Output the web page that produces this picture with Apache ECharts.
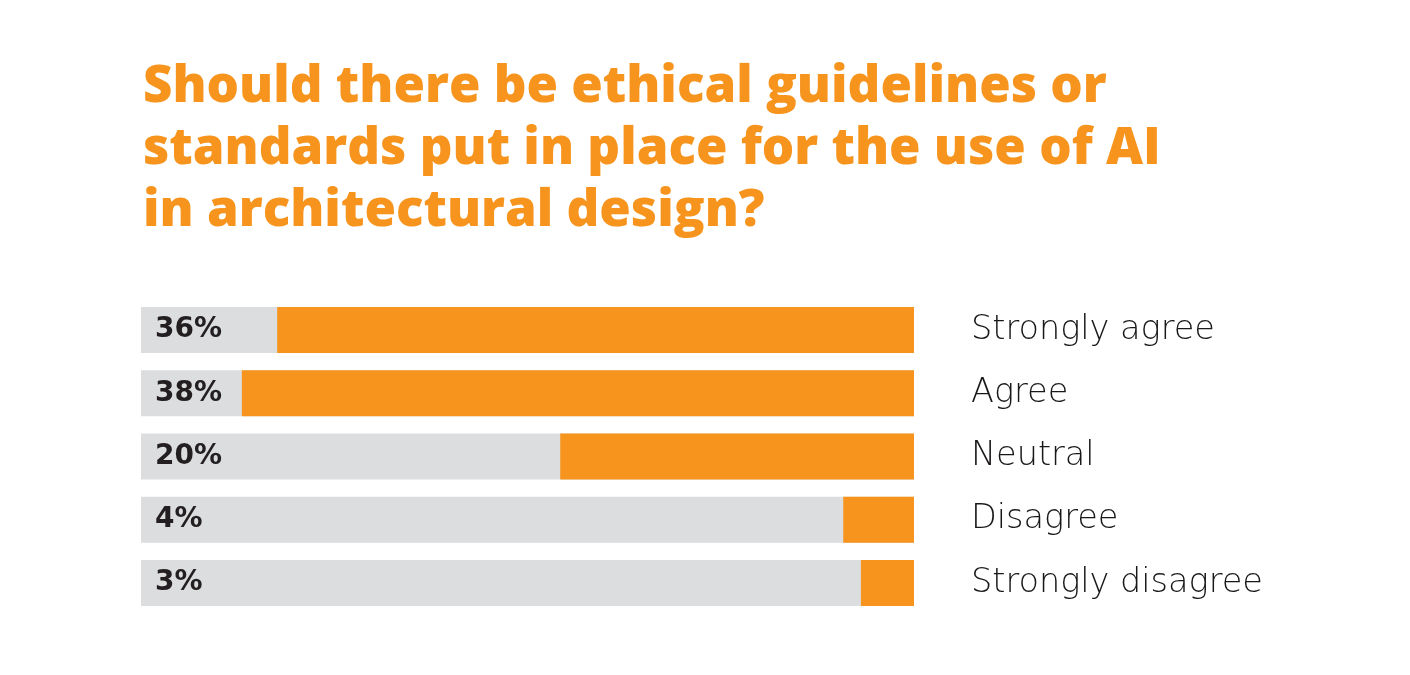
<!DOCTYPE html>
<html>
<head>
<meta charset="utf-8">
<script src="https://cdn.jsdelivr.net/npm/echarts@6/dist/echarts.min.js"></script>
<style>
html,body{margin:0;padding:0;background:#fff;}
#chart{width:1410px;height:675px;}
</style>
</head>
<body>
<div id="chart"></div>
<script>
const categories = ['Strongly agree', 'Agree', 'Neutral', 'Disagree', 'Strongly disagree'];
const values = [36, 38, 20, 4, 3];
const percentLabels = ['36%', '38%', '20%', '4%', '3%'];
const titleText = 'Should there be ethical guidelines or\nstandards put in place for the use of AI\nin architectural design?';

const chart = echarts.init(document.getElementById('chart'));
chart.setOption({
  backgroundColor: '#ffffff',
  animation: false,
  title: {
    text: titleText,
    left: 138,
    top: 51,
    textStyle: {
      fontFamily: 'Open Sans',
      fontWeight: 800,
      fontSize: 51,
      lineHeight: 62,
      color: '#F7941D'
    }
  },
  grid: { left: 141, right: 496, top: 298.5, bottom: 60.5 },
  xAxis: {
    type: 'value', min: 0, max: 43.7, inverse: true, show: false
  },
  yAxis: [
    {
      type: 'category', data: percentLabels, inverse: true, position: 'left',
      z: 10,
      axisLine: { show: false }, axisTick: { show: false },
      axisLabel: {
        inside: true, margin: 14, fontFamily: 'DejaVu Sans', fontWeight: 'bold',
        fontSize: 28, color: '#231f20', padding: [5, 0, 0, 0]
      }
    },
    {
      type: 'category', data: categories, inverse: true, position: 'right',
      z: 10,
      axisLine: { show: false }, axisTick: { show: false },
      axisLabel: {
        margin: 57, fontFamily: 'DejaVu Sans', fontWeight: 200,
        fontSize: 33.5, color: '#1a1718', padding: [5, 0, 0, 0]
      }
    }
  ],
  series: [{
    type: 'bar', data: values, barWidth: 46, yAxisIndex: 0,
    itemStyle: { color: '#F7941D' },
    showBackground: true,
    backgroundStyle: { color: '#DCDDDE' },
    z: 1
  }]
});
</script>
</body>
</html>
